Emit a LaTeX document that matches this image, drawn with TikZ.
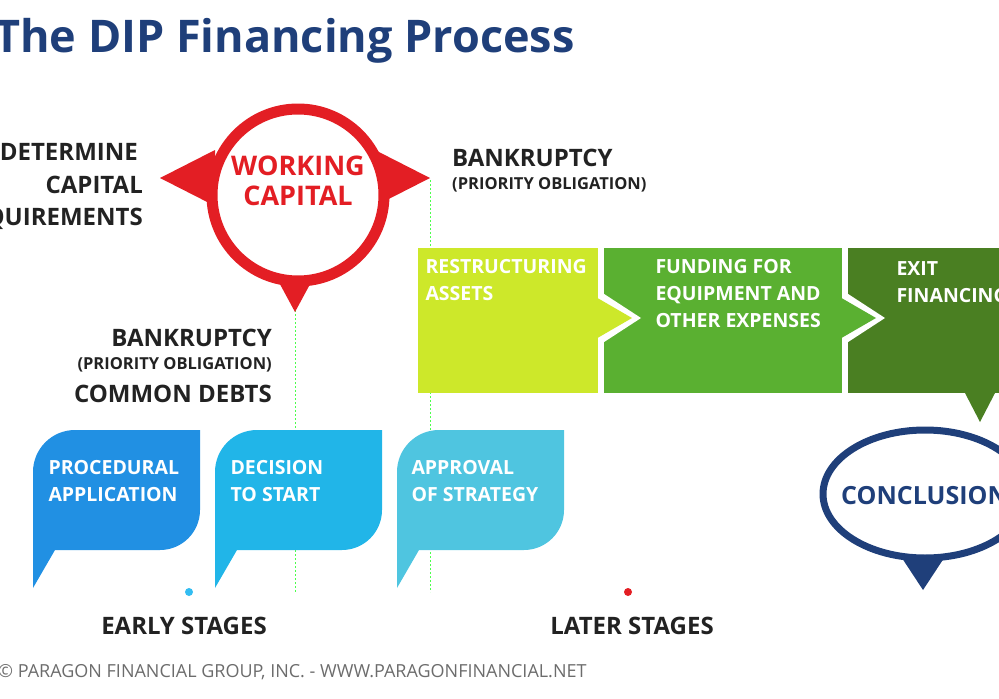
\documentclass[tikz,border=0pt]{standalone}
\usepackage{fontspec}
\setmainfont{Open Sans}
\usetikzlibrary{shapes.geometric}
\begin{document}
\begin{tikzpicture}[x=1pt,y=-1pt,
  dark/.style={font=\bfseries\fontsize{24}{28}\selectfont,text=txt},
  small/.style={font=\bfseries\fontsize{16.5}{18}\selectfont,text=txt},
  wt/.style={font=\bfseries\fontsize{19.5}{27}\selectfont,text=white,align=left,anchor=north west},
  dotl/.style={green!70!white,dash pattern=on 2pt off 2pt,line width=0.8pt}]
\definecolor{txt}{HTML}{222222}
\definecolor{navy}{HTML}{1F3F7A}
\definecolor{red1}{HTML}{E31E24}
\definecolor{lime}{HTML}{CDE82A}
\definecolor{gmid}{HTML}{5AB031}
\definecolor{gdark}{HTML}{4A7F22}
\definecolor{b1}{HTML}{2190E3}
\definecolor{b2}{HTML}{21B5E8}
\definecolor{b3}{HTML}{4FC5E0}
\useasboundingbox (0,0) rectangle (999,699);
\clip (0,0) rectangle (999,699);
% title
\node[anchor=base west,text=navy,font=\bfseries\fontsize{45}{50}\selectfont,inner sep=0] (title) at (-6,52) {The DIP Financing Process};
% dotted lines
\coordinate (d1t) at (295,310); \coordinate (d1b) at (295,592);
\coordinate (d2t) at (430,180); \coordinate (d2b) at (430,592);
\draw[dotl] (d1t) -- (d1b);
\draw[dotl] (d2t) -- (d2b);
% red circle
\fill[red1] (160,178) -- (215,150) -- (215,206) -- cycle;
\fill[red1] (430,178) -- (375,150) -- (375,206) -- cycle;
\fill[red1] (295,312) -- (268,262) -- (322,262) -- cycle;
\node[circle,draw=red1,line width=11pt,fill=white,minimum size=172pt] (wc) at (298,195) {};
\node[text=red1,font=\bfseries\fontsize{27}{30}\selectfont,align=center] (wct) at (298,181) {WORKING\\CAPITAL};
% left text
\node[dark,anchor=base east,inner sep=0] (l1) at (138,160) {DETERMINE};
\node[dark,anchor=base east,inner sep=0] (l2) at (143,193) {CAPITAL};
\node[dark,anchor=base east,inner sep=0] (l3) at (143,225) {REQUIREMENTS};
% right bankruptcy
\node[dark,anchor=base west,inner sep=0] (r1) at (452,166) {BANKRUPTCY};
\node[small,anchor=base west,inner sep=0] (r2) at (452,189) {(PRIORITY OBLIGATION)};
% lower bankruptcy
\node[dark,anchor=base east,inner sep=0] (m1) at (272,346) {BANKRUPTCY};
\node[small,anchor=base east,inner sep=0] (m2) at (272,369) {(PRIORITY OBLIGATION)};
\node[dark,anchor=base east,inner sep=0] (m3) at (272,402) {COMMON DEBTS};
% green boxes
\fill[gdark] (848,248) rectangle (999,393);
\fill[gdark] (965,393) -- (995,393) -- (980,422) -- cycle;
\fill[gmid] (604,248) rectangle (842,393);
\fill[white] (842,290) -- (885,318) -- (842,346) -- cycle;
\fill[gmid] (838,296) -- (876,318) -- (838,340) -- cycle;
\fill[lime] (418,248) rectangle (598,393);
\fill[white] (598,290) -- (641,318) -- (598,346) -- cycle;
\fill[lime] (594,296) -- (632,318) -- (594,340) -- cycle;
\node[wt] (g1) at (422,256) {RESTRUCTURING\\ASSETS};
\node[wt] (g2) at (652,256) {FUNDING FOR\\EQUIPMENT AND\\OTHER EXPENSES};
\node[wt] (g3) at (893,258) {EXIT\\FINANCING};
% speech bubbles
\foreach \x/\c in {33/b1,215/b2,397/b3}{
  \fill[\c] (\x,588) -- (\x,472) arc[start angle=180,end angle=270,radius=42] -- (\x+167,430) -- (\x+167,510) arc[start angle=0,end angle=90,radius=40] -- (\x+22,550) -- cycle;
}
\node[wt] (s1) at (45,457) {PROCEDURAL\\APPLICATION};
\node[wt] (s2) at (227,457) {DECISION\\TO START};
\node[wt] (s3) at (408,457) {APPROVAL\\OF STRATEGY};
% dots
\fill[cyan!80!white] (189,592) circle (4);
\fill[red1] (628,592) circle (4);
\node[dark,inner sep=0] (es) at (184,626) {EARLY STAGES};
\node[dark,inner sep=0] (ls) at (632,626) {LATER STAGES};
% conclusion
\fill[navy] (898,552) -- (948,552) -- (923,590) -- cycle;
\node[ellipse,draw=navy,line width=7pt,fill=white,minimum width=204pt,minimum height=128pt] (ce) at (925,494) {};
\node[text=navy,font=\bfseries\fontsize{25}{28}\selectfont,anchor=west,inner sep=0] (ct) at (841,496) {CONCLUSION};
% footer
\node[anchor=base west,text=gray!85!black,font=\fontsize{18}{20}\selectfont,inner sep=0] (ft) at (-2,677) {© PARAGON FINANCIAL GROUP, INC. - WWW.PARAGONFINANCIAL.NET};
\end{tikzpicture}
\end{document}
